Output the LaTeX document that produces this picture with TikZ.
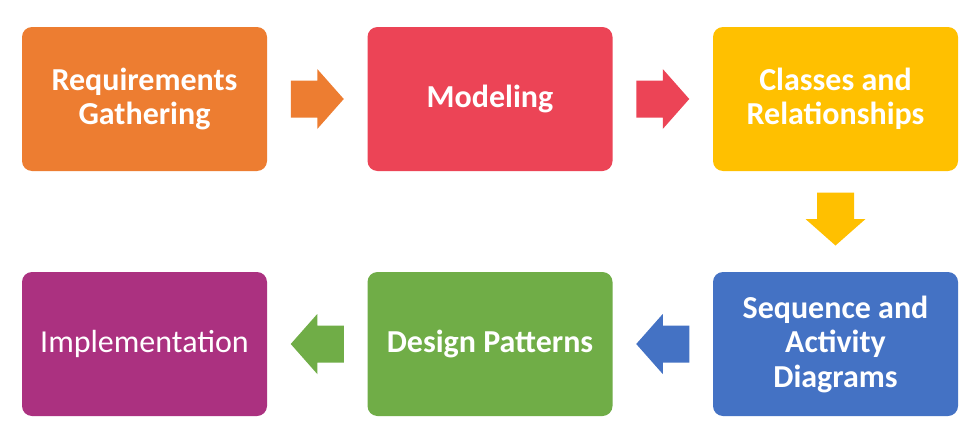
\documentclass[tikz,border=0pt]{standalone}
\usepackage{fontspec}
\usetikzlibrary{calc}
\setmainfont{Carlito}
\definecolor{corange}{HTML}{ED7D31}
\definecolor{cred}{HTML}{EC4456}
\definecolor{cyellow}{HTML}{FFC000}
\definecolor{cblue}{HTML}{4472C4}
\definecolor{cgreen}{HTML}{70AD47}
\definecolor{cpurple}{HTML}{AB3180}
\begin{document}
\begin{tikzpicture}[x=1pt,y=-1pt,
  stagebox/.style={rounded corners=10pt, minimum width=245pt, minimum height=144pt,
    inner sep=0pt, text=white, align=center, font=\fontsize{32}{34.5}\selectfont\bfseries},
  blockarrow/.pic={\fill (-26.5,-18.5) -- (0,-18.5) -- (0,-30) -- (26.5,0) -- (0,30) -- (0,18.5) -- (-26.5,18.5) -- cycle;}]
\useasboundingbox (0,0) rectangle (975,439);
\fill[white] (0,0) rectangle (975,439);
\node[stagebox, fill=corange] (req) at (144.5,99) {Requirements\\Gathering};
\node[stagebox, fill=cred] (mod) at (490,99) {Modeling};
\node[stagebox, fill=cyellow] (cls) at (835.5,99) {Classes and\\Relationships};
\node[stagebox, fill=cblue] (seq) at (835.5,344) {Sequence and\\Activity\\Diagrams};
\node[stagebox, fill=cgreen] (des) at (490,344) {Design Patterns};
\node[stagebox, fill=cpurple, font=\fontsize{32}{34.5}\selectfont] (imp) at (144.5,344) {Implementation};
\pic[corange] at ($(req.east)!0.5!(mod.west)$) {blockarrow};
\pic[cred] at ($(mod.east)!0.5!(cls.west)$) {blockarrow};
\pic[cyellow, rotate=-90] at ($(cls.south)!0.5!(seq.north)+(0,-2.5)$) {blockarrow};
\pic[cblue, rotate=180] at ($(seq.west)!0.5!(des.east)$) {blockarrow};
\pic[cgreen, rotate=180] at ($(des.west)!0.5!(imp.east)$) {blockarrow};
\end{tikzpicture}
\end{document}
